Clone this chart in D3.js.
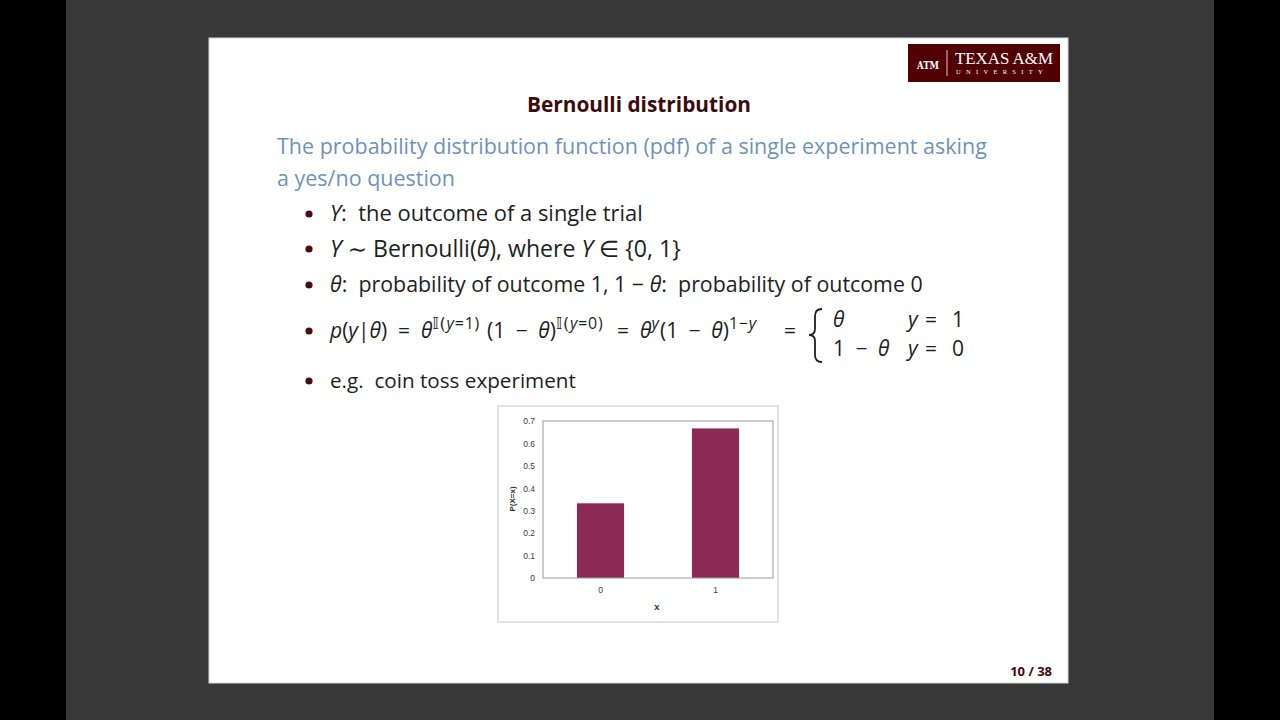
<!DOCTYPE html>
<html>
<head>
<meta charset="utf-8">
<script src="https://cdn.jsdelivr.net/npm/d3@7"></script>
<style>
  html, body { margin: 0; padding: 0; background: #000; }
  svg { display: block; }
</style>
</head>
<body>
<svg id="slide" width="1280" height="720"></svg>
<script>
// chart data
const categories = ['0', '1'];
const probs = [0.333, 0.667];
const yTicks = [0, 0.1, 0.2, 0.3, 0.4, 0.5, 0.6, 0.7];

const svg = d3.select('#slide');
const FONT = '"Open Sans", "DejaVu Sans", sans-serif';
const INK = '#1e1e1e';
const MAROON = '#500000';
const NB = '\u00a0';
const MS = '\u2002'; // math space around binary operators

// backdrop: black sides, dark grey viewer, white slide
svg.append('rect').attr('width', 1280).attr('height', 720).attr('fill', '#000');
svg.append('rect').attr('x', 66).attr('width', 1148).attr('height', 720).attr('fill', '#383838');
svg.append('rect').attr('x', 209).attr('y', 38).attr('width', 859).attr('height', 645)
  .attr('fill', '#fff').attr('stroke', '#d8d8d8').attr('stroke-width', 1);

// fit a text node to a target width by scaling its font-size
function fit(sel, width) {
  const w = sel.node().getBBox().width;
  const fs = parseFloat(sel.attr('font-size'));
  sel.attr('font-size', (fs * width / w).toFixed(2));
  return sel;
}

// segments: [text, style, x?] where style in '', 'i' (italic), 'sup', 'supi'
function rich(x, y, size, segs, color) {
  const t = svg.append('text').attr('x', x).attr('y', y)
    .attr('font-family', FONT).attr('font-size', size).attr('fill', color || INK);
  let up = false;
  segs.forEach(([s, st, sx]) => {
    const sup = st && st.startsWith('sup');
    const sp = t.append('tspan').text(s);
    if (sx !== undefined) sp.attr('x', sx);
    if (st === 'i' || st === 'supi') sp.attr('font-style', 'italic');
    if (sup && !up) { sp.attr('dy', -size * 0.42); up = true; }
    else if (!sup && up) { sp.attr('dy', size * 0.42); up = false; }
    if (sup) sp.attr('font-size', size * 0.76).attr('letter-spacing', 0.8);
    if (s.includes('𝕀')) sp.attr('font-family', '"DejaVu Sans", "DejaVu Serif", sans-serif');
  });
  return t;
}

// title
fit(svg.append('text').attr('x', 639).attr('y', 112).attr('text-anchor', 'middle')
  .attr('font-family', FONT).attr('font-weight', 'bold').attr('font-size', 20)
  .attr('fill', '#3b0a0a').text('Bernoulli distribution'), 224);

// blue lead-in
const BLUE = '#6f93b8';
const lead1 = fit(svg.append('text').attr('x', 277).attr('y', 154).attr('font-family', FONT)
  .attr('font-size', 21).attr('fill', BLUE)
  .text('The probability distribution function (pdf) of a single experiment asking'), 710);
svg.append('text').attr('x', 277).attr('y', 186).attr('font-family', FONT)
  .attr('font-size', lead1.attr('font-size')).attr('fill', BLUE).text('a yes/no question');

// bullets
const bulletY = [214, 249, 285, 331, 381];
bulletY.forEach(y => svg.append('circle').attr('cx', 309).attr('cy', y).attr('r', 3.6).attr('fill', '#4a0c0c'));

fit(rich(330, 221, 20, [['Y', 'i'], [':' + NB + NB + 'the outcome of a single trial', '']]), 313);
fit(rich(330, 257, 20, [['Y', 'i'], [NB + '∼' + NB + 'Bernoulli(', ''], ['θ', 'i'], ['), where ', ''], ['Y', 'i'], [NB + '∈' + NB + '{0, 1}', '']]), 351);
fit(rich(330, 292, 20, [['θ', 'i'], [':' + NB + NB + 'probability of outcome 1, 1' + NB + '−' + NB, ''], ['θ', 'i'], [':' + NB + NB + 'probability of outcome 0', '']]), 593);

// the pdf formula, pieces placed along the line as in the slide
rich(330, 338, 21, [
  ['p', 'i'], ['(', ''], ['y', 'i'], ['|', ''], ['θ', 'i'], [')', ''],
  ['=', '', 398],
  ['θ', 'i', 421],
  ['𝕀(', 'sup'], ['y', 'supi'], ['=1)', 'sup'],
  ['(1' + MS + '−' + MS, '', 487], ['θ', 'i'], [')', ''],
  ['𝕀(', 'sup'], ['y', 'supi'], ['=0)', 'sup'],
  ['=', '', 617],
  ['θ', 'i', 640], ['y', 'supi'],
  ['(1' + MS + '−' + MS, '', 660], ['θ', 'i'], [')', ''],
  ['1−', 'sup'], ['y', 'supi'],
  ['=', '', 784]
]);
// cases brace
svg.append('path')
  .attr('d', 'M822,309 Q815,309 815,316 L815,329 Q815,335 809,335 Q815,335 815,341 L815,355 Q815,362 822,362')
  .attr('fill', 'none').attr('stroke', INK).attr('stroke-width', 1.8);
rich(833, 327, 21, [['θ', 'i']]);
rich(908, 327, 21, [['y', 'i'], ['=', '', 925], ['1', '', 952]]);
rich(833, 356, 21, [['1' + MS + '−' + MS, ''], ['θ', 'i']]);
rich(908, 356, 21, [['y', 'i'], ['=', '', 925], ['0', '', 952]]);
fit(rich(330, 388, 20, [['e.g.' + NB + NB + 'coin toss experiment', '']]), 246);

// logo
const logo = svg.append('g');
logo.append('rect').attr('x', 908).attr('y', 44).attr('width', 152).attr('height', 38).attr('fill', MAROON);
logo.append('text').attr('x', 917).attr('y', 69)
  .attr('font-family', '"DejaVu Serif", serif').attr('font-weight', 'bold').attr('font-size', 11)
  .attr('textLength', 22).attr('lengthAdjust', 'spacingAndGlyphs')
  .attr('fill', '#fff').text('ATM');
logo.append('line').attr('x1', 947).attr('x2', 947).attr('y1', 50).attr('y2', 76)
  .attr('stroke', '#fff').attr('stroke-width', 0.8);
fit(logo.append('text').attr('x', 955).attr('y', 64).attr('font-family', '"Liberation Serif", serif')
  .attr('font-size', 15).attr('fill', '#fff').text('TEXAS A&M'), 98);
logo.append('text').attr('x', 956).attr('y', 74).attr('font-family', '"Liberation Serif", serif')
  .attr('font-size', 6.5).attr('letter-spacing', 5.3).attr('fill', '#fff').text('UNIVERSITY');

// page number
svg.append('text').attr('x', 1052).attr('y', 676).attr('text-anchor', 'end')
  .attr('font-family', FONT).attr('font-weight', 'bold').attr('font-size', 13)
  .attr('fill', '#3b0a0a').text('10 / 38');

// ---- the bar chart ----
const frame = { x: 498, y: 406, w: 280, h: 216 };
svg.append('rect').attr('x', frame.x).attr('y', frame.y).attr('width', frame.w).attr('height', frame.h)
  .attr('fill', '#fff').attr('stroke', '#cfcfcf').attr('stroke-width', 1.2);

const plot = { left: 543, right: 773, top: 421, bottom: 578 };
const x = d3.scaleBand().domain(categories).range([plot.left, plot.right])
  .paddingInner(0.59).paddingOuter(0.295);
const y = d3.scaleLinear().domain([0, 0.7]).range([plot.bottom, plot.top]);

const chart = svg.append('g').attr('font-family', '"Liberation Sans", Arial, sans-serif');

chart.selectAll('rect.bar').data(probs).join('rect').attr('class', 'bar')
  .attr('x', (d, i) => x(categories[i])).attr('width', x.bandwidth())
  .attr('y', d => y(d)).attr('height', d => y(0) - y(d))
  .attr('fill', '#8b2a56');

chart.append('rect').attr('x', plot.left).attr('y', plot.top)
  .attr('width', plot.right - plot.left).attr('height', plot.bottom - plot.top)
  .attr('fill', 'none').attr('stroke', '#9a9a9a').attr('stroke-width', 1);

const yAxis = chart.append('g').attr('transform', `translate(${plot.left},0)`)
  .call(d3.axisLeft(y).tickValues(yTicks).tickSize(0).tickPadding(8).tickFormat(d3.format('~g')));
yAxis.select('.domain').remove();
yAxis.selectAll('text').attr('font-size', 8.5).attr('fill', '#3a3a3a').attr('font-family', null);

const xAxis = chart.append('g').attr('transform', `translate(0,${plot.bottom})`)
  .call(d3.axisBottom(x).tickSize(0).tickPadding(9));
xAxis.select('.domain').remove();
xAxis.selectAll('text').attr('font-size', 8.5).attr('fill', '#3a3a3a').attr('font-family', null);

chart.append('text').attr('x', 657).attr('y', 610).attr('text-anchor', 'middle')
  .attr('font-size', 9.5).attr('font-weight', 'bold').attr('fill', '#333').text('x');
chart.append('text').attr('transform', 'translate(515,499) rotate(-90)').attr('text-anchor', 'middle')
  .attr('font-size', 8).attr('font-weight', 'bold').attr('fill', '#333').text('P(X=x)');
</script>
</body>
</html>
